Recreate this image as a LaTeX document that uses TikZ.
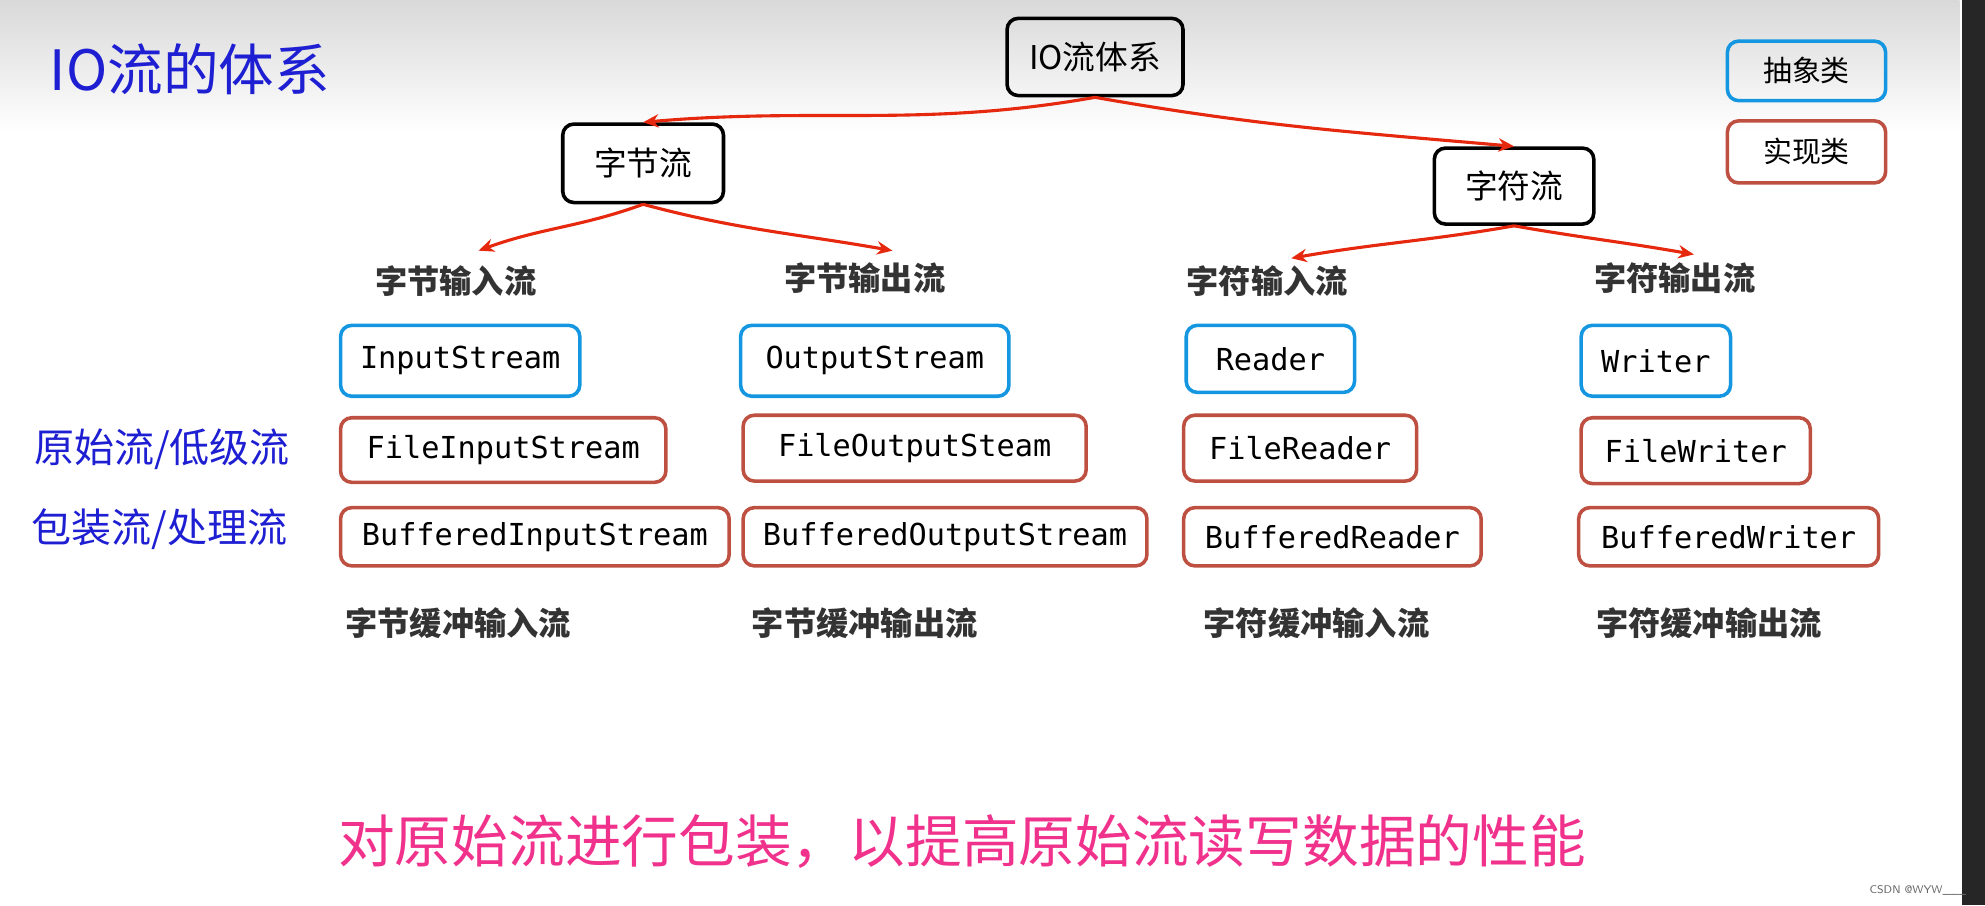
\documentclass[tikz,border=0pt]{standalone}
\usepackage{fontspec}
\setmonofont{DejaVu Sans Mono}
\newfontfamily\cjk{Noto Sans CJK SC}
\usetikzlibrary{arrows.meta}
\definecolor{bluebox}{RGB}{20,150,225}
\definecolor{redbox}{RGB}{190,80,65}
\definecolor{arr}{RGB}{230,40,15}
\definecolor{hand}{RGB}{30,30,210}
\definecolor{pink}{RGB}{240,50,140}
\begin{document}
\begin{tikzpicture}[x=0.02cm,y=-0.02cm,
 blk/.style={draw=black,line width=1.6pt,rounded corners=5pt,font=\cjk\fontsize{14.7}{16}\selectfont,inner sep=0pt},
 abs/.style={draw=bluebox,line width=1.6pt,rounded corners=5pt,font=\ttfamily\fontsize{13.6}{15}\selectfont,inner sep=0pt},
 imp/.style={draw=redbox,line width=1.6pt,rounded corners=5pt,font=\ttfamily\fontsize{13.6}{15}\selectfont,inner sep=0pt},
 lab/.style={font=\cjk\bfseries\fontsize{14.5}{16}\selectfont,text=black!80},
 side/.style={font=\cjk\fontsize{18}{20}\selectfont,text=hand},
 ar/.style={draw=arr,line width=1.4pt,-{Stealth[length=7pt,width=6pt]}}]
\useasboundingbox (0,0) rectangle (1568,715);
\shade[top color=black!15,bottom color=white] (0,0) rectangle (1548,105);
\fill[black!85] (1550,0) rectangle (1568,715);
\node[font=\cjk\fontsize{25}{28}\selectfont,text=hand] (title) at (150,55) {IO流的体系};
\node[blk,minimum width=2.78cm,minimum height=1.22cm] (root) at (865,45) {IO流体系};
\node[blk,minimum width=2.54cm,minimum height=1.24cm] (byte) at (508,129) {字节流};
\node[blk,minimum width=2.52cm,minimum height=1.2cm] (char) at (1196,147) {字符流};
\node[draw=bluebox,line width=1.6pt,rounded corners=5pt,font=\cjk\fontsize{13}{15}\selectfont,minimum width=2.5cm,minimum height=0.94cm] (l1) at (1427,56) {抽象类};
\node[draw=redbox,line width=1.6pt,rounded corners=5pt,font=\cjk\fontsize{13}{15}\selectfont,minimum width=2.5cm,minimum height=0.98cm] (l2) at (1427,120) {实现类};
\draw[ar] (root.south) to[out=190,in=5] (byte.north);
\draw[ar] (root.south) to[out=-10,in=175] (char.north);
\coordinate (a1) at (378,198); \coordinate (a2) at (705,198);
\coordinate (a3) at (1020,204); \coordinate (a4) at (1338,201);
\draw[ar] (byte.south) to[out=200,in=20] (a1);
\draw[ar] (byte.south) to[out=-15,in=170] (a2);
\draw[ar] (char.south) to[out=190,in=10] (a3);
\draw[ar] (char.south) to[out=-10,in=170] (a4);
\node[lab] (h1) at (360,222) {字节输入流};
\node[lab] (h2) at (683,220) {字节输出流};
\node[lab] (h3) at (1001,222) {字符输入流};
\node[lab] (h4) at (1323,220) {字符输出流};
\node[abs,minimum width=3.78cm,minimum height=1.12cm] (b1) at (363.5,285) {InputStream};
\node[abs,minimum width=4.24cm,minimum height=1.12cm] (b2) at (691,285) {OutputStream};
\node[abs,minimum width=2.66cm,minimum height=1.06cm] (b3) at (1003.5,283.5) {Reader};
\node[abs,minimum width=2.36cm,minimum height=1.12cm] (b4) at (1308,285) {Writer};
\node[imp,minimum width=5.14cm,minimum height=1.02cm] (c1) at (397.5,355.5) {FileInputStream};
\node[imp,minimum width=5.42cm,minimum height=1.04cm] (c2) at (722.5,354) {FileOutputSteam};
\node[imp,minimum width=3.68cm,minimum height=1.04cm] (c3) at (1027,354) {FileReader};
\node[imp,minimum width=3.62cm,minimum height=1.04cm] (c4) at (1339.5,356) {FileWriter};
\node[imp,minimum width=6.14cm,minimum height=0.92cm] (d1) at (422.5,424) {BufferedInputStream};
\node[imp,minimum width=6.38cm,minimum height=0.92cm] (d2) at (746.5,424) {BufferedOutputStream};
\node[imp,minimum width=4.7cm,minimum height=0.92cm] (d3) at (1052.5,424) {BufferedReader};
\node[imp,minimum width=4.74cm,minimum height=0.92cm] (d4) at (1365.5,424) {BufferedWriter};
\node[lab] (e1) at (362,492) {字节缓冲输入流};
\node[lab] (e2) at (683,492) {字节缓冲输出流};
\node[lab] (e3) at (1040,492) {字符缓冲输入流};
\node[lab] (e4) at (1350,492) {字符缓冲输出流};
\node[side] (s1) at (128,355) {原始流/低级流};
\node[side] (s2) at (126,418) {包装流/处理流};
\node[font=\cjk\fontsize{25.5}{28}\selectfont,text=pink] (note) at (760,665) {对原始流进行包装，以提高原始流读写数据的性能};
\node[font=\sffamily\fontsize{5}{6}\selectfont,text=black!60] (csdn) at (1515,703) {CSDN @WYW\_\_\_};
\end{tikzpicture}
\end{document}
